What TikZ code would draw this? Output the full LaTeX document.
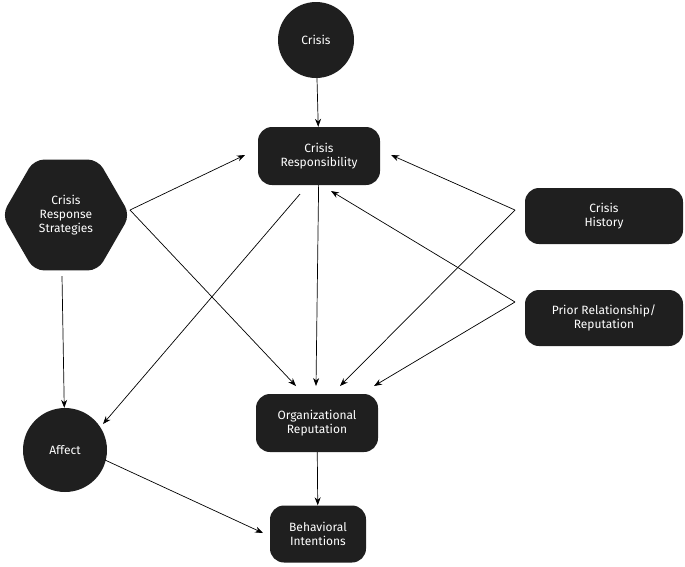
\documentclass[tikz,border=0pt]{standalone}
\usepackage{fontspec}
\setmainfont{Fira Sans}
\usetikzlibrary{shapes.geometric,arrows.meta}
\begin{document}
\begin{tikzpicture}[x=1pt,y=-1pt,
  box/.style={fill=black!88,text=white,rounded corners=14pt,align=center,font=\fontsize{12}{14}\selectfont,inner sep=0pt},
  circ/.style={circle,fill=black!88,text=white,align=center,font=\fontsize{12}{14}\selectfont,inner sep=0pt},
  arr/.style={-{Stealth[length=8pt,width=6pt]},line width=0.7pt}]
\useasboundingbox (0,0) rectangle (685,566);
\node[circ,minimum size=76pt] (c) at (316,40) {Crisis};
\node[box,minimum width=122pt,minimum height=58pt] (cr) at (319,156) {Crisis\\Responsibility};
\node[regular polygon,regular polygon sides=6,fill=black!88,text=white,minimum size=128pt,align=center,font=\fontsize{12}{14}\selectfont,inner sep=0pt,rounded corners=10pt] (s) at (66,215) {Crisis\\Response\\Strategies};
\node[box,minimum width=158pt,minimum height=56pt] (h) at (604,216) {Crisis\\History};
\node[box,minimum width=158pt,minimum height=56pt] (p) at (604,318) {Prior Relationship/\\Reputation};
\node[box,minimum width=122pt,minimum height=58pt] (o) at (317,423) {Organizational\\Reputation};
\node[circ,minimum size=84pt] (a) at (65,450) {Affect};
\node[box,minimum width=96pt,minimum height=57pt] (b) at (318,534) {Behavioral\\Intentions};
\coordinate (sl) at (130,210);
\coordinate (hl) at (515,210);
\coordinate (pl) at (515,302);
\draw[arr] (c) -- (cr);
\draw[arr] (cr) -- (316,386);
\draw[arr] (300,194) -- (103,424);
\draw[arr] (sl) -- (245,155);
\draw[arr] (sl) -- (296,386);
\draw[arr] (hl) -- (391,155);
\draw[arr] (hl) -- (340,386);
\draw[arr] (pl) -- (331,191);
\draw[arr] (pl) -- (374,386);
\draw[arr] (62,276) -- (a);
\draw[arr] (105,460) -- (263,533);
\draw[arr] (o) -- (b);
\end{tikzpicture}
\end{document}
